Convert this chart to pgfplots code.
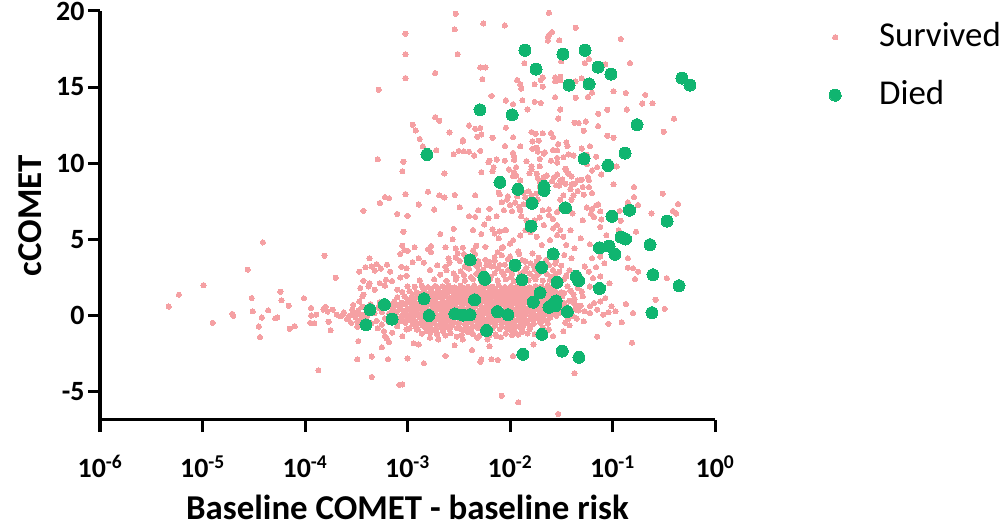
\documentclass[border=0pt]{standalone}
\usepackage{fontspec}
\setmainfont{Carlito}
\usepackage{pgfplots}
\pgfplotsset{compat=1.18}
\definecolor{survived}{RGB}{245,160,163}
\definecolor{died}{RGB}{16,181,112}
\begin{document}
\begin{tikzpicture}
\path[use as bounding box] (0,0) rectangle (1000bp,527bp);
\begin{axis}[
  at={(100bp,107bp)}, anchor=south west,
  scale only axis, width=615bp, height=409bp,
  xmin=-6, xmax=0, ymin=-6.9, ymax=20,
  axis x line*=bottom, axis y line*=left,
  axis line style={line width=3bp, -},
  every tick/.style={black, line width=3bp},
  major tick length=12bp, tick align=outside,
  xtick={-6,-5,-4,-3,-2,-1,0},
  xticklabels={10\textsuperscript{-6},10\textsuperscript{-5},10\textsuperscript{-4},10\textsuperscript{-3},10\textsuperscript{-2},10\textsuperscript{-1},10\textsuperscript{0}},
  ytick={-5,0,5,10,15,20},
  yticklabels={-5,0,5,10,15,20},
  ticklabel style={font=\bfseries\fontsize{28}{32}\selectfont},
  xticklabel style={anchor=base, yshift=-45bp},
  yticklabel style={anchor=east},
  every axis x label/.style={at={(axis description cs:0.5,-0.2421)}, anchor=base, font=\bfseries\fontsize{35}{42}\selectfont},
  every axis y label/.style={at={(axis description cs:-0.1138,0.5)}, rotate=90, anchor=center, font=\bfseries\fontsize{35}{42}\selectfont},
  xlabel={Baseline COMET - baseline risk},
  ylabel={cCOMET},
  legend style={draw=none, fill=none, at={(axis description cs:1.1805,0.978)}, anchor=north west,
    font=\fontsize{35}{42}\selectfont, nodes={inner sep=0pt, text height=24bp, text depth=6bp},
    column sep=38bp, row sep=28bp},
  legend cell align=left,
  legend image code/.code={\draw[#1] plot coordinates {(0bp,0bp)};},
  clip=false,
]
% survivors: log10 of baseline risk against cCOMET
\addplot[only marks, mark=*, mark size=2.6bp, mark options={draw=survived, fill=survived, line width=0pt}] coordinates {
% sparse upper region
(-3.02,18.51)(-3.02,17.16)(-3.02,15.59)(-3.28,14.82)(-3.29,10.25)(-3.04,10.08)(-3.05,9.46)(-3.02,7.96)(-3.22,7.76)(-3.18,7.68)
(-3.27,7.37)(-3.43,6.85)(-3.10,6.65)(-3.00,6.52)(-2.53,19.82)(-2.54,18.79)(-2.26,19.18)(-2.05,19.05)(-2.51,17.16)(-2.73,15.92)
(-2.29,16.29)(-2.24,16.29)(-2.27,15.52)(-2.18,14.41)(-2.04,14.10)(-2.73,13.02)(-2.69,12.78)(-2.95,12.52)(-2.92,12.14)(-2.40,12.47)
(-2.34,12.25)(-2.29,12.30)(-2.59,12.01)(-2.28,11.88)(-2.04,12.32)(-2.17,11.67)(-2.88,11.58)(-2.46,11.52)(-1.62,19.88)(-1.36,18.90)
(-1.59,18.61)(-1.62,18.42)(-1.63,18.29)(-1.63,18.05)(-1.52,18.07)(-0.92,18.16)(-1.86,16.57)(-1.50,16.70)(-1.23,16.85)(-1.27,16.57)
(-1.07,16.50)(-0.83,16.57)(-1.93,15.46)(-1.90,15.18)(-1.89,14.89)(-1.76,15.18)(-1.68,15.63)(-1.70,15.46)(-1.68,15.02)(-1.56,15.63)
(-1.56,15.37)(-1.51,15.67)(-1.51,15.44)(-1.36,15.37)(-1.30,15.57)(-1.20,14.63)(-0.99,14.72)(-0.87,14.61)(-0.68,14.48)(-2.04,14.13)
(-1.97,13.87)(-1.88,14.13)(-1.76,14.02)(-1.70,13.95)(-1.56,14.33)(-1.36,14.30)(-1.24,14.35)(-0.71,13.91)(-0.61,13.93)(-1.83,13.52)
(-1.51,13.52)(-1.05,13.50)(-1.14,13.24)(-1.53,12.93)(-0.40,12.91)(-1.37,12.65)(-1.33,12.63)(-1.26,12.73)(-1.14,12.43)(-1.28,12.12)
(-1.79,12.04)(-1.75,11.93)(-1.68,11.95)(-1.60,11.97)(-1.58,11.69)(-1.97,11.69)(-1.05,11.80)(-0.99,11.67)(-0.50,12.06)(-0.51,7.99)
(-0.36,7.31)(-0.41,6.85)(-0.38,6.68)(-2.55,10.58)(-2.50,10.80)(-2.45,10.77)(-2.40,10.75)(-2.29,10.80)(-2.72,10.84)(-2.80,8.12)
(-2.64,9.31)(-2.54,7.90)(-2.69,7.88)(-2.64,7.73)(-2.34,7.88)(-2.49,7.09)(-2.28,9.40)(-2.40,6.50)(-2.34,6.46)(-2.89,7.27)
(-2.74,6.94)
% middle region
(-2.05,11.12)(-1.90,11.10)(-1.97,10.67)(-1.96,10.42)(-1.96,10.21)(-1.94,9.73)(-1.94,9.18)(-1.90,8.86)(-1.85,7.73)(-1.87,7.29)
(-2.00,7.24)(-2.08,7.42)(-2.10,7.94)(-2.02,7.81)(-2.20,6.98)(-2.13,6.50)(-1.90,6.88)(-1.79,9.58)(-1.74,9.29)(-1.71,9.79)
(-1.78,11.42)(-1.72,11.47)(-1.74,11.01)(-1.67,10.62)(-1.60,10.16)(-1.54,10.03)(-1.54,10.84)(-1.53,11.25)(-1.45,11.36)(-1.44,11.12)
(-1.48,10.38)(-1.43,10.56)(-1.38,10.49)(-1.30,10.95)(-1.25,10.54)(-1.22,11.10)(-1.20,9.51)(-1.15,9.73)(-1.11,9.25)(-1.24,9.07)
(-1.30,8.90)(-1.40,9.12)(-1.45,9.51)(-1.43,9.29)(-1.51,8.86)(-1.52,8.51)(-1.46,8.64)(-1.40,8.59)(-1.37,8.64)(-1.54,9.25)
(-1.57,9.07)(-1.64,9.18)(-1.59,8.81)(-1.71,8.75)(-1.74,7.99)(-1.71,8.42)(-1.73,7.59)(-1.68,6.90)(-1.62,6.94)(-1.54,6.78)
(-1.51,7.59)(-1.46,7.29)(-1.38,7.86)(-1.34,8.16)(-1.29,8.42)(-1.23,8.42)(-1.20,8.03)(-1.16,7.22)(-1.12,6.83)(-1.25,7.07)
(-1.21,6.68)(-1.39,6.68)(-0.99,8.61)(-0.96,9.77)(-0.86,13.52)(-0.79,8.42)(-0.79,7.76)(-0.75,7.24)(-0.93,6.85)(-2.32,11.73)
(-2.21,10.05)(-2.20,10.16)(-2.13,10.23)(-2.16,9.73)(-2.17,9.46)(-2.85,11.10)(-2.35,10.49)(-2.46,11.42)(-2.11,8.05)(-2.31,6.90)
(-2.25,5.96)(-2.21,6.37)(-2.36,5.59)(-2.55,5.67)(-2.68,5.33)(-2.56,4.98)(-2.28,5.33)(-2.17,5.65)(-2.15,5.37)(-2.10,5.50)
(-2.05,5.59)(-2.11,5.05)(-2.07,4.48)(-2.24,4.48)(-2.33,4.56)(-2.36,4.26)(-2.46,4.43)(-2.53,4.39)(-2.51,4.07)(-2.63,4.46)
(-2.77,4.54)(-2.80,4.33)(-2.77,4.13)(-2.93,4.46)(-3.05,4.56)(-3.03,4.28)(-3.00,4.22)(-3.07,4.02)(-3.37,3.74)(-3.81,3.91)
(-3.30,3.35)(-3.26,3.06)(-3.41,3.15)(-3.35,3.19)(-3.20,3.32)(-3.06,3.17)(-3.01,3.08)(-2.95,3.48)(-2.89,3.74)(-2.84,3.45)
(-2.71,3.28)(-2.63,3.17)(-2.59,3.45)(-2.60,3.74)(-2.53,3.78)(-2.49,3.56)(-2.45,4.02)(-2.43,3.84)(-2.34,4.02)(-2.31,3.56)
(-2.24,3.63)(-2.23,3.28)(-2.18,3.19)(-2.15,3.58)(-2.12,4.13)(-2.08,3.93)(-2.05,3.32)(-2.44,3.19)(-2.32,3.19)
(-1.78,10.93)(-1.73,10.75)(-1.96,9.40)(-1.97,9.14)(-2.01,9.58)(-2.05,10.16)(-1.84,10.12)(-1.79,9.79)(-1.81,9.33)(-1.71,10.27)
(-1.66,10.71)(-1.58,10.86)(-1.54,10.34)(-1.16,10.42)(-1.25,9.92)(-1.34,8.86)(-1.41,8.29)(-1.49,8.92)(-1.55,8.53)(-1.67,9.07)
(-1.73,9.01)(-1.82,8.14)(-1.79,7.86)(-1.87,8.05)(-1.93,7.81)(-1.95,7.40)(-2.03,7.59)(-2.06,6.90)(-1.98,6.83)(-1.91,7.11)
(-1.89,6.50)(-1.84,6.24)(-1.71,6.42)(-1.62,6.57)(-1.58,6.33)(-1.54,5.92)(-1.51,5.59)(-1.51,6.96)(-1.40,7.59)(-1.48,7.88)
(-1.46,9.62)(-1.28,7.92)(-1.20,6.98)(-1.14,7.29)(-1.18,6.46)(-1.29,6.24)(-1.23,8.86)(-1.05,9.88)(-0.85,7.42)(-1.11,6.29)
(-0.92,6.20)(-1.06,5.26)(-1.12,5.80)(-1.31,5.05)(-1.22,4.65)(-1.12,3.84)(-1.20,3.74)(-1.37,4.39)(-1.40,3.74)(-1.47,3.95)
(-1.56,3.39)(-1.65,3.63)(-1.74,3.52)(-1.77,3.24)(-1.85,3.52)(-1.91,4.02)(-2.02,3.69)(-2.08,4.39)(-2.00,4.69)(-1.97,4.92)
(-1.90,5.24)(-1.85,5.59)(-1.80,5.44)(-1.74,5.15)(-1.69,4.61)(-1.61,4.93)(-1.54,5.26)(-1.48,5.15)(-1.45,4.61)(-1.41,5.59)
(-1.58,5.70)(-1.67,5.92)(-1.76,6.24)(-2.04,5.59)(-0.85,3.12)(-0.94,5.59)(-0.85,3.74)(-0.62,6.68)(-0.80,3.08)(-0.75,2.86)
(-0.47,2.43)(-0.58,1.01)(-0.49,0.41)(-0.77,5.48)(-0.81,-1.82)
% lower and right spread
(-2.20,-1.34)(-2.13,-1.39)(-1.99,-0.99)(-1.95,-1.12)(-1.97,-0.62)(-2.18,-2.91)(-2.12,-2.95)(-1.97,-2.69)(-2.08,-5.31)(-1.92,-5.74)
(-1.53,-6.50)(-1.37,-3.82)(-1.77,-1.93)(-1.62,-0.95)(-1.48,-1.06)(-1.58,-1.39)(-1.42,-0.67)(-1.35,-0.23)(-1.28,-0.41)(-1.15,-1.42)
(-1.04,-0.58)(-0.91,-0.47)(-1.09,0.03)(-1.04,0.18)(-1.22,0.14)(-1.15,0.36)(-1.27,0.25)(-1.36,0.36)(-1.38,0.80)(-1.31,0.62)
(-1.22,0.58)(-1.18,0.80)(-1.12,0.90)(-1.07,1.12)(-1.01,0.58)(-0.97,0.25)(-0.87,0.73)(-1.29,1.23)(-1.30,1.56)(-1.34,1.78)
(-1.22,1.88)(-1.03,2.10)(-1.19,2.43)(-1.12,2.54)(-1.23,2.86)(-1.27,3.19)(-1.08,3.41)(-1.16,3.15)(-0.78,2.37)(-0.80,0.14)
(-2.29,-3.08)(-2.28,-2.91)(-2.84,-3.17)(-3.05,-4.56)(-2.63,-2.69)
% low-risk tail
(-5.33,0.56)(-5.23,1.34)(-4.99,1.97)(-4.90,-0.51)(-4.71,0.08)(-4.70,-0.05)(-4.56,2.99)(-4.52,1.12)(-4.51,0.25)(-4.41,4.78)
(-4.42,-0.16)(-4.45,-0.75)(-4.44,-1.45)(-4.36,0.31)(-4.29,-0.21)(-4.27,-0.16)(-4.24,1.54)(-4.23,0.97)(-4.16,0.62)(-4.15,-0.90)
(-4.10,-0.73)(-4.01,1.10)(-3.94,0.47)(-3.94,-0.03)(-3.89,0.03)(-3.95,-0.51)(-3.91,-0.54)(-3.87,-3.63)(-3.82,0.36)(-3.80,0.54)
(-3.78,0.23)(-3.77,-0.44)(-3.75,-0.99)(-3.70,2.45)(-3.73,0.36)(-3.69,0.03)(-3.65,-0.08)(-3.59,-0.25)(-3.55,-0.51)(-3.49,-0.41)
(-3.53,0.14)(-3.48,0.31)(-3.41,0.03)(-3.53,0.67)(-3.47,0.90)(-3.46,1.78)(-3.47,2.86)(-3.43,2.25)(-3.44,1.23)(-3.38,1.88)
(-3.32,2.93)(-3.49,-0.77)(-3.48,-1.71)(-3.49,-2.91)(-3.35,-2.73)(-3.35,-4.07)(-3.25,-2.12)(-3.29,-0.86)(-3.19,-2.91)(-3.08,-4.59)
(-3.15,-1.16)(-3.20,-1.56)(-3.18,-1.78)(-3.05,-1.39)(-3.10,-0.73)(-3.04,5.48)(-3.01,2.58)(-3.07,2.47)(-3.15,2.24)(-3.21,2.32)
(-3.22,1.93)(-3.27,2.10)(-3.10,1.67)(-3.00,1.88)(-3.63,0.03)(-3.58,-0.18)(-3.51,-0.12)(-3.46,0.03)(-3.44,-0.25)(-3.23,-1.06)
(-3.22,-1.39)(-3.00,-2.86)(-3.37,2.10)(-3.43,1.34)(-3.32,1.67)(-3.17,2.86)(-2.85,1.78)(-2.78,2.97)(-2.94,-1.86)(-2.89,-1.93)
(-2.78,-1.49)(-2.70,-1.60)(-2.63,-1.34)(-2.54,-1.99)(-2.46,-1.60)(-2.37,-2.30)(-2.32,-1.49)(-2.22,-1.60)(-2.20,-2.04)(-2.37,-1.16)
(-2.47,-0.95)(-2.59,-0.84)(-2.72,-1.06)(-2.81,-1.06)(-2.91,-0.95)(-3.01,-0.95)
% dense core
(-2.93,1.86)(-2.86,1.95)(-2.80,1.84)(-2.73,1.92)(-2.66,1.88)(-2.60,1.97)(-2.54,1.83)(-2.48,1.93)(-2.41,1.87)(-2.35,1.96)
(-2.29,1.84)(-2.23,1.91)(-2.17,1.86)(-2.11,1.97)(-2.05,1.85)(-1.99,1.92)(-1.93,1.88)(-1.87,1.95)(-1.81,1.83)(-1.75,1.91)
(-1.69,1.87)(-1.63,1.94)(-1.57,1.85)
(-2.77,1.70)(-2.70,1.76)(-2.63,1.69)(-2.57,1.74)(-2.51,1.71)(-2.44,1.77)(-2.38,1.68)(-2.32,1.73)(-2.26,1.70)(-2.20,1.76)
(-2.14,1.69)(-2.08,1.74)(-2.02,1.71)(-1.96,1.77)(-1.90,1.68)(-1.84,1.73)(-1.78,1.70)(-1.72,1.75)(-1.66,1.69)(-1.60,1.74)
(-3.05,1.52)(-2.98,1.58)(-2.91,1.50)(-2.84,1.60)(-2.78,1.53)(-2.71,1.57)(-2.65,1.49)(-2.58,1.59)(-2.52,1.54)(-2.46,1.61)
(-2.40,1.50)(-2.34,1.56)(-2.28,1.60)(-2.22,1.51)(-2.16,1.57)(-2.10,1.53)(-2.04,1.61)(-1.98,1.49)(-1.92,1.56)(-1.86,1.52)
(-1.80,1.60)(-1.74,1.50)(-1.68,1.57)(-1.62,1.53)(-1.56,1.59)(-1.50,1.51)
(-2.95,1.35)(-2.87,1.40)(-2.80,1.34)(-2.74,1.39)(-2.68,1.36)(-2.61,1.41)(-2.55,1.33)(-2.49,1.38)(-2.43,1.35)(-2.37,1.41)
(-2.31,1.34)(-2.25,1.39)(-2.19,1.36)(-2.13,1.42)(-2.07,1.33)(-2.01,1.38)(-1.95,1.35)(-1.89,1.40)(-1.83,1.34)(-1.77,1.39)
(-1.71,1.36)(-1.65,1.41)(-1.59,1.34)(-1.53,1.38)
(-3.10,1.18)(-3.03,1.24)(-2.96,1.16)(-2.89,1.22)(-2.82,1.15)(-2.76,1.25)(-2.70,1.19)(-2.63,1.23)(-2.57,1.14)(-2.51,1.21)
(-2.45,1.17)(-2.39,1.25)(-2.33,1.16)(-2.27,1.22)(-2.21,1.18)(-2.15,1.26)(-2.09,1.15)(-2.03,1.20)(-1.97,1.24)(-1.91,1.16)
(-1.85,1.22)(-1.79,1.18)(-1.73,1.25)(-1.67,1.15)(-1.61,1.21)(-1.55,1.17)(-1.49,1.23)
(-3.00,1.01)(-2.93,1.06)(-2.86,1.00)(-2.79,1.05)(-2.73,1.02)(-2.66,1.07)(-2.60,0.99)(-2.54,1.04)(-2.48,1.01)(-2.42,1.07)
(-2.36,1.00)(-2.30,1.05)(-2.24,1.02)(-2.18,1.08)(-2.12,0.99)(-2.06,1.04)(-2.00,1.01)(-1.94,1.06)(-1.88,1.00)(-1.82,1.05)
(-1.76,1.02)(-1.70,1.07)(-1.64,0.99)(-1.58,1.04)(-1.52,1.01)
(-3.20,0.83)(-3.13,0.89)(-3.06,0.81)(-2.99,0.87)(-2.93,0.80)(-2.86,0.90)(-2.80,0.84)(-2.74,0.88)(-2.68,0.79)(-2.62,0.86)
(-2.56,0.82)(-2.50,0.90)(-2.44,0.81)(-2.38,0.87)(-2.32,0.83)(-2.26,0.91)(-2.20,0.80)(-2.14,0.85)(-2.08,0.89)(-2.02,0.81)
(-1.96,0.87)(-1.90,0.83)(-1.84,0.90)(-1.78,0.80)(-1.72,0.86)(-1.66,0.82)(-1.60,0.88)(-1.54,0.84)(-1.47,0.80)
(-3.10,0.66)(-3.03,0.71)(-2.96,0.65)(-2.90,0.70)(-2.83,0.67)(-2.77,0.72)(-2.71,0.64)(-2.65,0.69)(-2.59,0.66)(-2.53,0.72)
(-2.47,0.65)(-2.41,0.70)(-2.35,0.67)(-2.29,0.73)(-2.23,0.64)(-2.17,0.69)(-2.11,0.66)(-2.05,0.71)(-1.99,0.65)(-1.93,0.70)
(-1.87,0.67)(-1.81,0.72)(-1.75,0.64)(-1.69,0.69)(-1.63,0.66)(-1.57,0.71)(-1.51,0.65)
(-3.28,0.48)(-3.21,0.54)(-3.14,0.46)(-3.07,0.52)(-3.00,0.45)(-2.94,0.55)(-2.88,0.49)(-2.82,0.53)(-2.76,0.44)(-2.70,0.51)
(-2.64,0.47)(-2.58,0.55)(-2.52,0.46)(-2.46,0.52)(-2.40,0.48)(-2.34,0.56)(-2.28,0.45)(-2.22,0.50)(-2.16,0.54)(-2.10,0.46)
(-2.04,0.52)(-1.98,0.48)(-1.92,0.55)(-1.86,0.45)(-1.80,0.51)(-1.74,0.47)(-1.68,0.53)(-1.62,0.49)(-1.56,0.44)(-1.50,0.52)
(-3.15,0.31)(-3.08,0.36)(-3.02,0.30)(-2.96,0.35)(-2.90,0.32)(-2.84,0.37)(-2.78,0.29)(-2.72,0.34)(-2.66,0.31)(-2.60,0.37)
(-2.54,0.30)(-2.48,0.35)(-2.42,0.32)(-2.36,0.38)(-2.30,0.29)(-2.24,0.34)(-2.18,0.31)(-2.12,0.36)(-2.06,0.30)(-2.00,0.35)
(-1.94,0.32)(-1.88,0.37)(-1.82,0.29)(-1.76,0.34)(-1.70,0.31)(-1.64,0.36)(-1.58,0.30)(-1.52,0.35)
(-3.32,0.13)(-3.25,0.19)(-3.18,0.11)(-3.11,0.17)(-3.04,0.10)(-2.97,0.20)(-2.91,0.14)(-2.85,0.18)(-2.79,0.09)(-2.73,0.16)
(-2.67,0.12)(-2.61,0.20)(-2.55,0.11)(-2.49,0.17)(-2.43,0.13)(-2.37,0.21)(-2.31,0.10)(-2.25,0.15)(-2.19,0.19)(-2.13,0.11)
(-2.07,0.17)(-2.01,0.13)(-1.95,0.20)(-1.89,0.10)(-1.83,0.16)(-1.77,0.12)(-1.71,0.18)(-1.65,0.09)(-1.59,0.15)(-1.53,0.11)
(-3.12,-0.04)(-3.05,0.01)(-2.99,-0.05)(-2.93,0.00)(-2.87,-0.03)(-2.81,0.02)(-2.75,-0.06)(-2.69,-0.01)(-2.63,-0.04)(-2.57,0.02)
(-2.51,-0.05)(-2.45,0.00)(-2.39,-0.03)(-2.33,0.03)(-2.27,-0.06)(-2.21,-0.01)(-2.15,-0.04)(-2.09,0.01)(-2.03,-0.05)(-1.97,0.00)
(-1.91,-0.03)(-1.85,0.02)(-1.79,-0.06)(-1.73,-0.01)(-1.67,-0.04)(-1.61,0.01)(-1.55,-0.05)
(-3.22,-0.22)(-3.15,-0.16)(-3.08,-0.24)(-3.01,-0.18)(-2.95,-0.25)(-2.88,-0.15)(-2.82,-0.21)(-2.76,-0.17)(-2.70,-0.26)(-2.64,-0.19)
(-2.58,-0.23)(-2.52,-0.15)(-2.46,-0.24)(-2.40,-0.18)(-2.34,-0.22)(-2.28,-0.14)(-2.22,-0.25)(-2.16,-0.20)(-2.10,-0.16)(-2.04,-0.24)
(-1.98,-0.18)(-1.92,-0.22)(-1.86,-0.15)(-1.80,-0.25)(-1.74,-0.19)(-1.68,-0.23)(-1.61,-0.17)
(-3.05,-0.39)(-2.98,-0.34)(-2.92,-0.40)(-2.85,-0.35)(-2.79,-0.38)(-2.73,-0.33)(-2.67,-0.41)(-2.61,-0.36)(-2.55,-0.39)(-2.49,-0.33)
(-2.43,-0.40)(-2.37,-0.35)(-2.31,-0.38)(-2.25,-0.32)(-2.19,-0.41)(-2.13,-0.36)(-2.07,-0.39)(-2.01,-0.34)(-1.95,-0.40)(-1.89,-0.35)
(-1.83,-0.38)(-1.77,-0.33)(-1.71,-0.41)(-1.65,-0.36)
(-3.10,-0.57)(-3.02,-0.51)(-2.95,-0.59)(-2.88,-0.53)(-2.81,-0.60)(-2.75,-0.50)(-2.68,-0.56)(-2.62,-0.52)(-2.56,-0.61)(-2.50,-0.54)
(-2.44,-0.58)(-2.38,-0.50)(-2.32,-0.59)(-2.26,-0.55)(-2.20,-0.51)(-2.14,-0.59)(-2.08,-0.53)(-2.02,-0.57)(-1.96,-0.50)(-1.90,-0.60)
(-1.84,-0.54)(-1.77,-0.58)(-1.70,-0.52)
(-2.92,-0.74)(-2.85,-0.69)(-2.78,-0.75)(-2.71,-0.70)(-2.64,-0.73)(-2.57,-0.68)(-2.50,-0.76)(-2.43,-0.71)(-2.36,-0.74)(-2.29,-0.68)
(-2.22,-0.75)(-2.15,-0.70)(-2.08,-0.73)(-2.01,-0.69)(-1.94,-0.76)(-1.87,-0.71)(-1.80,-0.74)
(-2.98,-0.88)(-2.90,-0.94)(-2.82,-0.86)(-2.74,-0.95)(-2.66,-0.89)(-2.59,-0.93)(-2.52,-0.85)(-2.45,-0.96)(-2.38,-0.90)(-2.31,-0.86)
(-2.24,-0.94)(-2.17,-0.88)(-2.10,-0.92)(-2.03,-0.85)(-1.96,-0.93)(-1.89,-0.89)(-1.81,-0.95)
(-2.86,-1.22)(-2.71,-1.28)(-2.58,-1.20)(-2.47,-1.30)(-2.36,-1.24)(-2.27,-1.19)(-2.14,-1.27)(-2.04,-1.22)(-1.92,-1.29)(-1.83,-1.21)
(-2.78,-1.15)(-2.65,-1.10)(-2.52,-1.42)(-2.41,-1.12)(-2.30,-1.38)(-2.20,-1.15)(-2.09,-1.45)(-1.98,-1.32)(-1.88,-1.10)(-1.76,-1.25)
(-1.68,-0.80)(-1.63,-0.55)
(-2.88,2.28)(-2.74,2.35)(-2.62,2.25)(-2.53,2.33)(-2.44,2.27)(-2.36,2.36)(-2.28,2.24)(-2.20,2.31)(-2.12,2.27)(-2.04,2.35)
(-1.96,2.25)(-1.89,2.32)(-1.82,2.28)(-1.75,2.36)(-1.68,2.26)(-1.61,2.33)(-1.54,2.29)(-1.47,2.37)
(-2.68,2.66)(-2.55,2.73)(-2.45,2.64)(-2.33,2.71)(-2.24,2.68)(-2.15,2.75)(-2.06,2.65)(-1.98,2.72)(-1.90,2.67)(-1.81,2.74)
(-1.73,2.66)(-1.64,2.71)(-1.56,2.68)(-1.45,2.63)
(-2.62,2.95)(-2.52,2.50)(-2.48,2.88)(-2.38,2.50)(-2.30,2.90)(-2.19,2.52)(-2.08,2.85)(-1.99,2.50)(-1.86,2.90)(-1.77,2.52)
(-1.70,2.86)(-1.60,2.50)(-1.52,2.85)(-1.42,2.95)(-1.50,3.25)(-1.95,3.25)(-2.16,3.22)(-2.33,3.28)
(-2.40,3.05)(-2.26,2.98)(-2.12,3.07)(-2.02,2.96)(-1.93,3.04)(-1.84,3.10)(-1.76,2.99)(-1.67,3.06)(-1.58,2.97)
(-2.30,3.35)(-2.20,3.50)(-2.10,3.30)(-1.98,3.45)(-1.88,3.62)(-1.80,3.40)(-1.72,3.78)(-1.62,3.30)(-1.55,3.60)(-2.00,3.85)
(-1.92,4.20)(-1.78,4.05)(-2.15,3.80)
(-3.62,0.18)(-3.57,-0.05)(-3.54,0.35)(-3.50,0.12)(-3.47,-0.35)(-3.44,0.55)(-3.40,-0.12)(-3.38,0.28)(-3.35,-0.55)(-3.36,0.72)
(-3.30,-0.38)(-3.27,0.85)(-3.25,-0.62)(-3.18,-0.45)(-3.16,0.70)
(-1.44,1.90)(-1.42,0.95)(-1.40,0.30)(-1.43,-0.25)(-1.38,1.35)(-1.36,0.62)(-1.34,2.10)(-1.45,2.55)(-1.39,-0.05)
(-1.47,1.45)(-1.45,0.55)(-1.44,-0.05)(-1.41,1.60)(-1.37,1.05)(-1.46,-0.50)(-1.33,0.30)
};
\addlegendentry{Survived}
% deaths
\addplot[only marks, mark=*, mark size=6bp, mark options={draw=died, fill=died, line width=0pt}] coordinates {
(-1.854,17.42)(-1.483,17.16)(-1.268,17.42)(-1.746,16.18)(-1.141,16.31)(-1.015,15.85)(-1.424,15.13)(-1.229,15.20)(-0.322,15.59)(-0.244,15.13)
(-2.293,13.50)(-1.980,13.17)(-0.761,12.52)(-2.810,10.56)(-0.878,10.65)(-1.278,10.29)(-1.044,9.84)(-2.098,8.73)(-1.922,8.27)(-1.668,8.46)
(-1.668,8.20)(-1.785,7.35)(-1.459,7.06)(-0.834,6.90)(-1.005,6.50)(-0.468,6.18)(-1.795,5.85)(-0.917,5.13)(-0.873,5.00)(-0.634,4.63)
(-1.127,4.43)(-1.034,4.54)(-0.976,4.00)(-1.580,4.02)(-2.390,3.63)(-1.951,3.28)(-1.691,3.14)(-0.605,2.65)(-2.254,2.48)(-2.244,2.35)
(-1.883,2.32)(-1.541,2.16)(-1.356,2.54)(-1.330,2.27)(-1.127,1.76)(-0.351,1.93)(-2.839,1.08)(-2.346,1.01)(-1.707,1.47)(-1.773,0.85)
(-1.620,0.51)(-1.587,0.69)(-1.551,0.93)(-1.558,0.60)(-1.441,0.23)(-0.615,0.16)(-2.122,0.23)(-2.020,0.03)(-2.790,-0.03)(-2.537,0.08)
(-2.459,0.00)(-2.390,0.03)(-2.229,-1.01)(-1.688,-1.27)(-1.875,-2.58)(-1.490,-2.37)(-1.327,-2.78)(-3.366,0.36)(-3.226,0.69)(-3.151,-0.26)(-3.405,-0.64)
};
\addlegendentry{Died}
\end{axis}
\end{tikzpicture}
\end{document}
